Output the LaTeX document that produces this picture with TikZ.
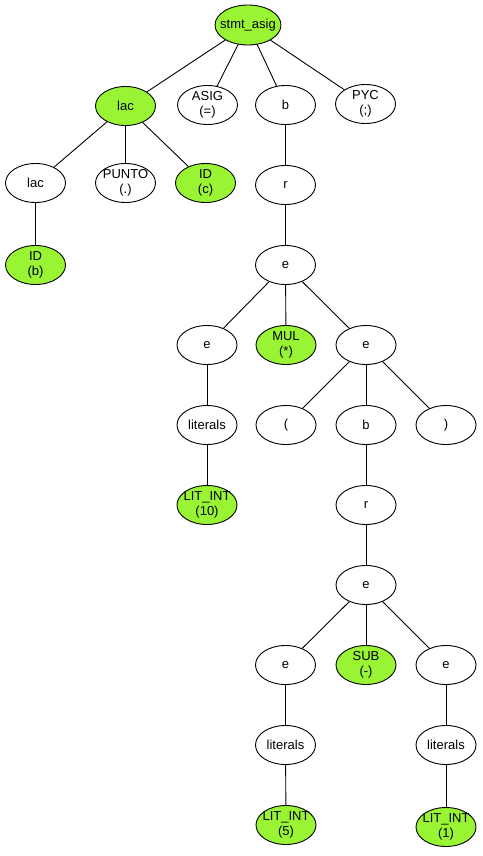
\documentclass[tikz,border=0pt]{standalone}
\usepackage{fontspec}
\setmainfont{Liberation Sans}
\usetikzlibrary{shapes.geometric}
\definecolor{leaf}{RGB}{153,245,51}
\tikzset{
  nd/.style={ellipse, draw=black, line width=0.9pt, minimum width=60pt, minimum height=39pt, inner xsep=-9pt, inner ysep=-5pt, align=center, font=\fontsize{13}{14.5}\selectfont, fill=white},
  gr/.style={nd, fill=leaf}
}
\begin{document}
\begin{tikzpicture}[x=1pt,y=-1pt]
\tikzset{ed/.style={line width=0.9pt}}
\useasboundingbox (0,0) rectangle (482,856);
\node[gr, minimum width=66pt, minimum height=40pt, inner xsep=-14pt] (root) at (248,25) {stmt\_asig};
\node[gr] (lac1) at (125.5,106) {lac};
\node[nd] (asig) at (207.5,105) {ASIG\\(=)};
\node[nd] (b1) at (285.5,105) {b};
\node[nd] (pyc) at (365.5,104) {PYC\\(;)};
\node[nd] (lac2) at (35.5,183) {lac};
\node[nd] (punto) at (125.5,183) {PUNTO\\(.)};
\node[gr] (idc) at (205.5,183) {ID\\(c)};
\node[nd] (r1) at (285.5,185) {r};
\node[gr] (idb) at (35.5,265) {ID\\(b)};
\node[nd] (e1) at (285.5,265) {e};
\node[nd] (e2) at (207,345) {e};
\node[gr] (mul) at (286,345) {MUL\\(*)};
\node[nd] (e3) at (366,345) {e};
\node[nd] (lit1) at (207,425) {literals};
\node[nd] (lp) at (286,425) {(};
\node[nd] (b2) at (366,425) {b};
\node[nd] (rp) at (446,425) {)};
\node[gr] (int10) at (207,505) {LIT\_INT\\(10)};
\node[nd] (r2) at (366,505) {r};
\node[nd] (e4) at (366,585) {e};
\node[nd] (e5) at (285.5,665) {e};
\node[gr] (sub) at (366,665) {SUB\\(-)};
\node[nd] (e6) at (446,665) {e};
\node[nd] (lit2) at (285.5,745) {literals};
\node[nd] (lit3) at (446,745) {literals};
\node[gr] (int5) at (286,825) {LIT\_INT\\(5)};
\node[gr] (int1) at (446,827) {LIT\_INT\\(1)};
\draw[ed] (root) -- (lac1);
\draw[ed] (root) -- (asig);
\draw[ed] (root) -- (b1);
\draw[ed] (root) -- (pyc);
\draw[ed] (lac1) -- (lac2);
\draw[ed] (lac1) -- (punto);
\draw[ed] (lac1) -- (idc);
\draw[ed] (lac2) -- (idb);
\draw[ed] (b1) -- (r1);
\draw[ed] (r1) -- (e1);
\draw[ed] (e1) -- (e2);
\draw[ed] (e1) -- (mul);
\draw[ed] (e1) -- (e3);
\draw[ed] (e2) -- (lit1);
\draw[ed] (lit1) -- (int10);
\draw[ed] (e3) -- (lp);
\draw[ed] (e3) -- (b2);
\draw[ed] (e3) -- (rp);
\draw[ed] (b2) -- (r2);
\draw[ed] (r2) -- (e4);
\draw[ed] (e4) -- (e5);
\draw[ed] (e4) -- (sub);
\draw[ed] (e4) -- (e6);
\draw[ed] (e5) -- (lit2);
\draw[ed] (lit2) -- (int5);
\draw[ed] (e6) -- (lit3);
\draw[ed] (lit3) -- (int1);
\end{tikzpicture}
\end{document}
